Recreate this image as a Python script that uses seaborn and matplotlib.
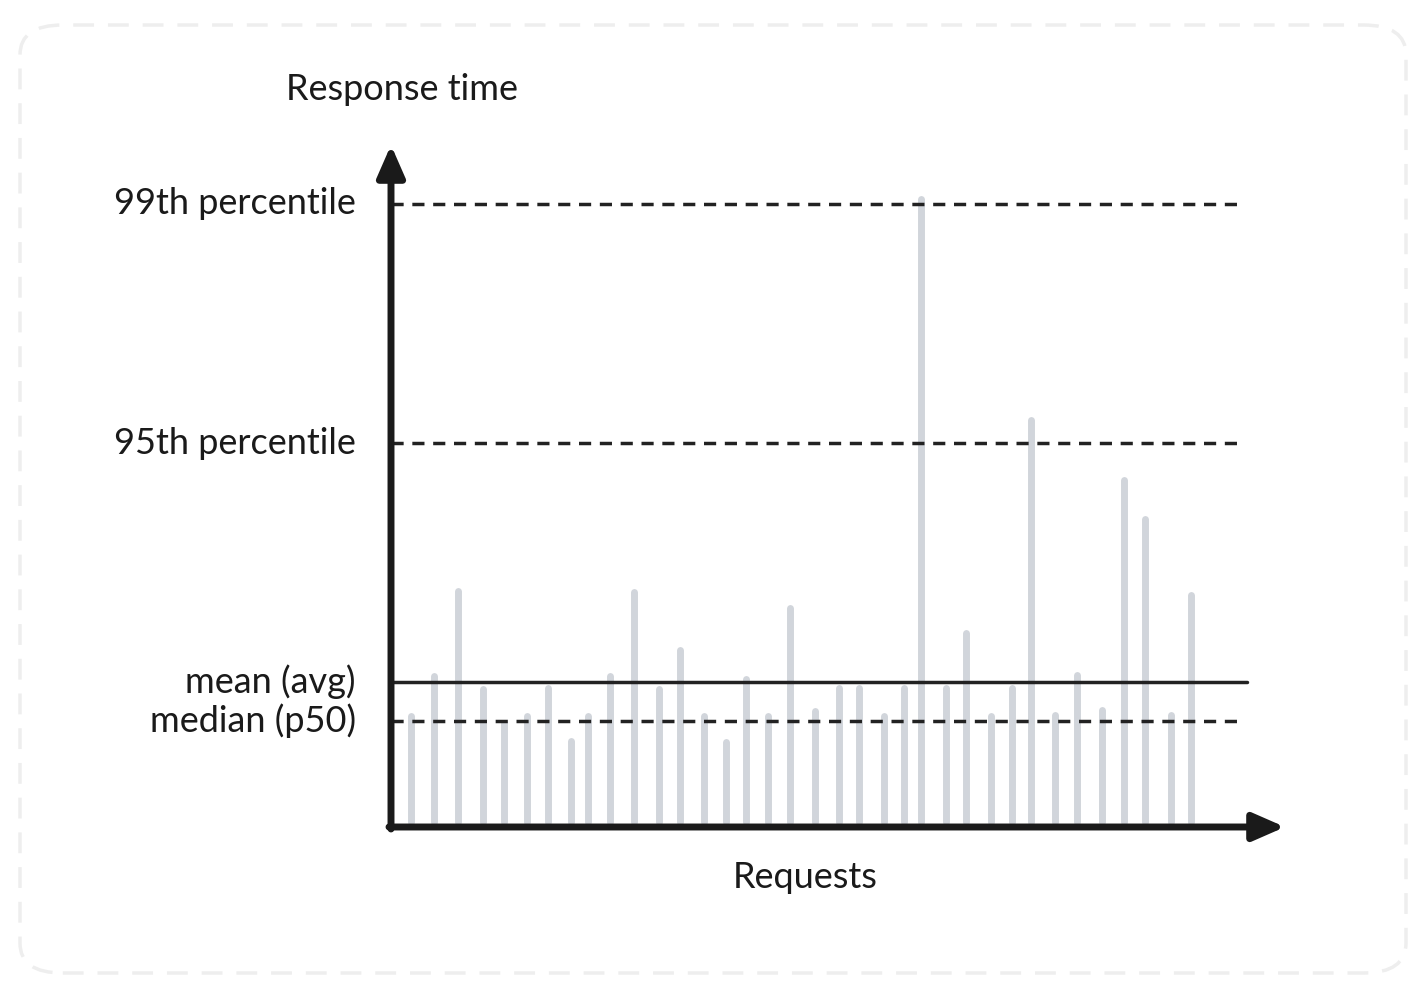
import matplotlib
matplotlib.use("Agg")
import matplotlib.pyplot as plt
from matplotlib.patches import FancyBboxPatch
import seaborn as sns
import pandas as pd

# request positions (arbitrary request index scale) and response times
requests = [411, 434, 458, 483, 504, 527, 548, 571, 588, 610, 634, 659, 680, 704, 726, 746, 768, 790,
            815, 839, 859, 884, 904, 921, 946, 966, 991, 1012, 1031, 1055, 1077, 1102, 1124, 1145, 1171, 1191]
response = [106, 146, 231, 133, 99, 106, 134, 81, 106, 146, 230, 133, 172, 106, 80, 143, 106, 214,
            111, 134, 134, 106, 134, 623, 134, 189, 106, 134, 402, 107, 147, 112, 342, 303, 107, 227]
p99 = 618
p95 = 379
mean = 140
median = 101
ref_labels = ["99th percentile", "95th percentile", "mean (avg)", "median (p50)"]

sns.set_theme(style="white")
plt.rcParams['font.family'] = ['Lato', 'DejaVu Sans']

W, H = 1426, 993
fig = plt.figure(figsize=(W / 100, H / 100), dpi=100)
fig.patch.set_facecolor("white")
box = FancyBboxPatch((20 / W, 20 / H), (W - 40) / W, (H - 45) / H,
                     boxstyle="round,pad=0,rounding_size=0.03", transform=fig.transFigure,
                     facecolor="none", edgecolor="#eeeeee", linewidth=2.5, linestyle=(0, (6, 4)),
                     zorder=-10)
fig.patches.append(box)

x0, x1 = 391, 1285
ytop, ybot = 145, 827
ax = fig.add_axes([x0 / W, 1 - ybot / H, (x1 - x0) / W, (ybot - ytop) / H])
ax.patch.set_alpha(0)
ax.set_xlim(x0, x1)
ax.set_ylim(-5, ybot - ytop - 5)
ax.axis("off")

df = pd.DataFrame({"req": requests, "rt": response})
ax.vlines(df["req"], 0, df["rt"], color="#d1d5db", linewidth=5, capstyle="round", zorder=2)

lines = [(p99, (0, (3.5, 2.5)), 1245), (p95, (0, (3.5, 2.5)), 1240),
         (mean, "-", 1247), (median, (0, (3.5, 2.5)), 1240)]
for (val, ls, xe), lab in zip(lines, ref_labels):
    sns.lineplot(x=[x0, xe], y=[val, val], ax=ax, color="#222222", linewidth=2.5, linestyle=ls, zorder=3)
    ax.text(x0 - 35, val, lab, ha="right", va="center", fontsize=26, color="#1a1a1a")

# axes arrows
ax.annotate("", xy=(x1, -5), xytext=(x0 - 2, -5),
            arrowprops=dict(arrowstyle="-|>,head_length=1.6,head_width=0.7", lw=5, color="#1a1a1a",
                            shrinkA=0, shrinkB=0), annotation_clip=False)
ax.annotate("", xy=(x0, ybot - ytop - 5), xytext=(x0, -7),
            arrowprops=dict(arrowstyle="-|>,head_length=1.6,head_width=0.7", lw=5, color="#1a1a1a",
                            shrinkA=0, shrinkB=0), annotation_clip=False)

fig.text(402 / W, 1 - 90 / H, "Response time", ha="center", va="center", fontsize=26, color="#1a1a1a")
fig.text(805 / W, 1 - 877 / H, "Requests", ha="center", va="center", fontsize=26, color="#1a1a1a")

fig.savefig("out.png", dpi=100)
